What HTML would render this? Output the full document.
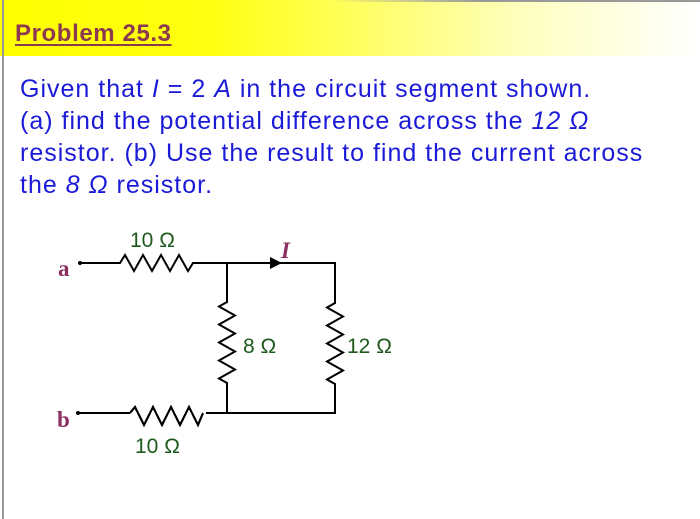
<!DOCTYPE html>
<html><head><style>
body{margin:0;width:700px;height:519px;overflow:hidden;background:#fff;position:relative;font-family:"Liberation Sans",sans-serif}
#hdr{position:absolute;left:0;top:0;width:700px;height:56px;background:linear-gradient(90deg,#ffff00 0%,#ffff10 30%,#ffff70 55%,#ffffc0 75%,#ffffff 100%)}
#lb{position:absolute;left:2px;top:0;width:2px;height:519px;background:#999}
#tb{position:absolute;left:330px;top:0;width:370px;height:2px;background:linear-gradient(90deg,rgba(150,150,150,0),#999 40%)}
#title{position:absolute;left:15px;top:20px;font-size:24px;font-weight:bold;color:#8b3a50;text-decoration:underline;text-decoration-thickness:2px;text-underline-offset:3px;letter-spacing:0.6px}
#txt{position:absolute;left:20px;top:73px;font-size:25px;line-height:32px;color:#1a1ad8;white-space:nowrap;letter-spacing:1px}
</style></head><body>
<div id="hdr"></div><div id="lb"></div><div id="tb"></div>
<div id="title">Problem 25.3</div>
<div id="txt">Given that <i>I</i> = 2 <i>A</i> in the circuit segment shown.<br>(a) find the potential difference across the <i>12 Ω</i><br>resistor. (b) Use the result to find the current across<br>the <i>8 Ω</i> resistor.</div>
<svg width="700" height="519" style="position:absolute;left:0;top:0" font-family="Liberation Sans,sans-serif">
<g stroke="#000" stroke-width="2" fill="none" stroke-linejoin="miter">
<path d="M80 263H120 l5 -8 l9 16 l9 -16 l9 16 l9 -16 l9 16 l9 -16 l9 16 l5 -8 H335 V303 l-8 4.5 l16 9 l-16 9 l16 9 l-16 9 l16 9 l-16 9 l16 9 l-16 9 l8 4.5 V413 H78"/>
<path d="M227 263V302 l-8 4.5 l16 9 l-16 9 l16 9 l-16 9 l16 9 l-16 9 l16 9 l-16 9 l8 4.5 V413"/>
<path d="M130 413 l5 -6 l9 18 l9 -18 l9 18 l9 -18 l9 18 l9 -18 l9 18 l5 -12" stroke="#000"/>
</g>
<rect x="130" y="412" width="76" height="2" fill="#fff"/>
<g stroke="#000" stroke-width="2" fill="none">
<path d="M130 413 l5 -6 l9 18 l9 -18 l9 18 l9 -18 l9 18 l9 -18 l9 18 l5 -12"/>
<path d="M78 413H130 M206 413H227"/>
</g>
<circle cx="80" cy="263" r="2" fill="#000"/><circle cx="78" cy="413" r="2" fill="#000"/>
<polygon points="270,257 282,263 270,269" fill="#000"/>
<g fill="#1e5a1e" font-size="21">
<text x="130" y="247">10 Ω</text>
<text x="243" y="353">8 Ω</text>
<text x="347" y="353">12 Ω</text>
<text x="135" y="453">10 Ω</text>
</g>
<g fill="#8b3060" font-family="Liberation Serif,serif" font-weight="bold" font-size="23">
<text x="58" y="276">a</text>
<text x="57" y="427">b</text>
<text x="281" y="258" font-style="italic">I</text>
</g>
</svg>
</body></html>
